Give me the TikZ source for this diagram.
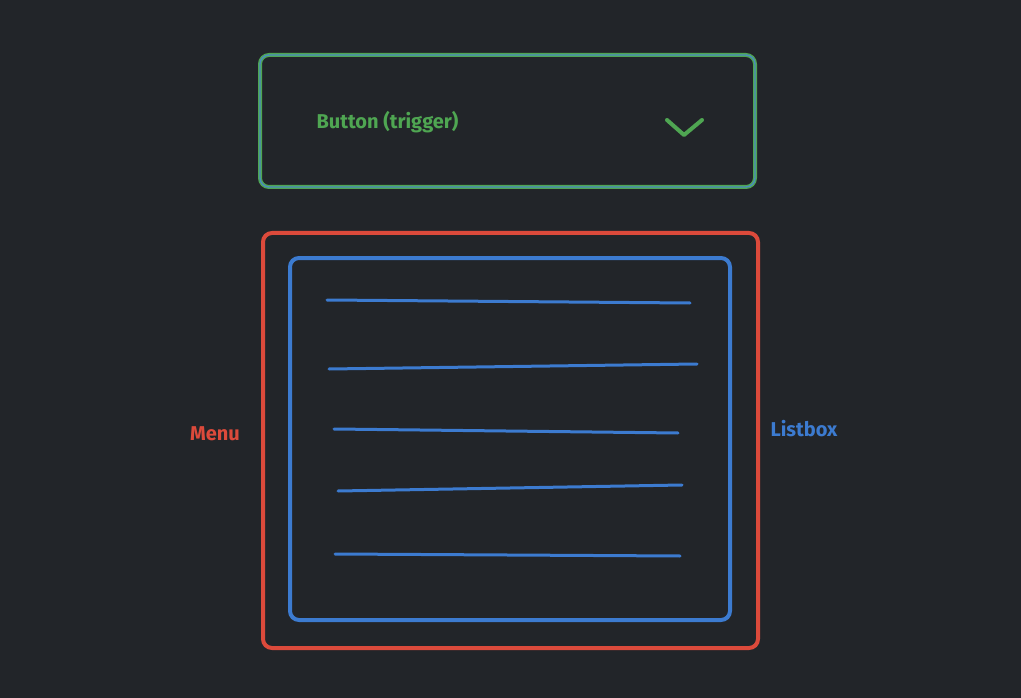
\documentclass[tikz,border=0pt]{standalone}
\usepackage{fontspec}
\setmainfont{Fira Sans}
\usepackage{xcolor}
\definecolor{bgdark}{HTML}{222529}
\definecolor{btngreen}{HTML}{4FA652}
\definecolor{btnblue}{HTML}{4A8CBF}
\definecolor{menured}{HTML}{DC4A3B}
\definecolor{listblue}{HTML}{3C7BD0}

\begin{document}
\begin{tikzpicture}
[x=1pt,y=-1pt,every node/.style={font=\fontsize{20}{22}\selectfont\bfseries},
 boxline/.style={line width=4pt,rounded corners=9pt},
 itemline/.style={listblue,line width=3pt,line cap=round}]
\fill[bgdark] (0,0) rectangle (1021,698);
\useasboundingbox (0,0) rectangle (1021,698);
% button
\draw[boxline,btngreen] (260,55) rectangle (755,187);
\draw[btnblue,line width=1.4pt,rounded corners=9pt] (260,55) rectangle (755,187);
\node[btngreen,anchor=west] (btn) at (313,122) {Button (trigger)};
\coordinate (c1) at (667,120);
\coordinate (c2) at (684,135);
\coordinate (c3) at (702,120);
\draw[btngreen,line width=4pt,line cap=round,line join=round] (c1) -- (c2) -- (c3);
% menu and listbox
\draw[boxline,menured] (263,233) rectangle (758,648);
\draw[boxline,listblue] (290,258) rectangle (730,620);
\node[menured] (menu) at (215,434) {Menu};
\node[listblue] (listbox) at (804,429) {Listbox};
% items
\foreach \xa/\ya/\xb/\yb in {327/300/690/303,329/369/697/364,334/429/678/433,338/491/682/485,335/554/680/556}
\draw[itemline] (\xa,\ya) -- (\xb,\yb);
\end{tikzpicture}
\end{document}
